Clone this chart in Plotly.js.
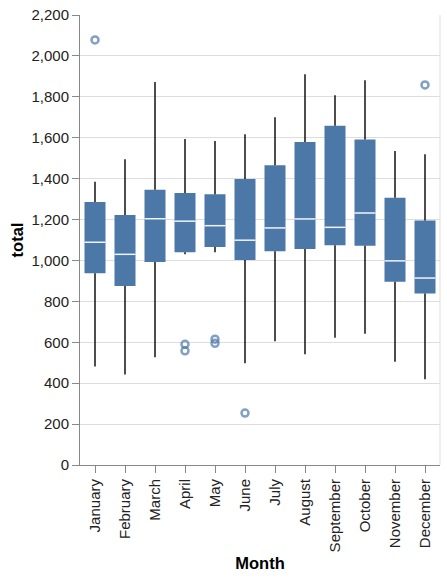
<!DOCTYPE html>
<html>
<head>
<meta charset="utf-8">
<script src="https://cdn.plot.ly/plotly-3.0.1.min.js"></script>
<style>html,body{margin:0;padding:0;background:#fff;}#chart{width:447px;height:579px;}</style>
</head>
<body>
<div id="chart"></div>
<script>
const months = ['January','February','March','April','May','June','July','August','September','October','November','December'];
const q1     = [937, 875, 993, 1040, 1066, 1002, 1045, 1056, 1074, 1072, 896, 838];
const median = [1089, 1030, 1204, 1192, 1170, 1099, 1159, 1203, 1162, 1232, 998, 914];
const q3     = [1286, 1222, 1346, 1330, 1324, 1398, 1465, 1579, 1659, 1591, 1306, 1195];
const lower  = [481, 442, 527, 1030, 1040, 497, 605, 541, 622, 642, 505, 419];
const upper  = [1385, 1495, 1873, 1594, 1584, 1617, 1700, 1910, 1808, 1881, 1535, 1519];
const outlierMonth = ['January','April','April','May','May','June','December'];
const outlierValue = [2078, 590, 558, 615, 595, 254, 1858];
const yTicks = [0, 200, 400, 600, 800, 1000, 1200, 1400, 1600, 1800, 2000, 2200];

const idx = months.map((m, i) => i);
const BLUE = '#4c78a8';
const HALF = 0.35;

const boxes = {
  type: 'bar', x: idx, base: q1, y: q3.map((v, i) => v - q1[i]),
  width: 0.7, marker: {color: BLUE, line: {width: 0}}, hoverinfo: 'skip'
};
const wx = [], wy = [];
idx.forEach(i => {
  wx.push(i, i, null, i, i, null);
  wy.push(lower[i], q1[i], null, q3[i], upper[i], null);
});
const whiskers = {type: 'scatter', mode: 'lines', x: wx, y: wy, line: {color: '#000', width: 1.4}, hoverinfo: 'skip'};
const mx = [], my = [];
idx.forEach(i => { mx.push(i - HALF, i + HALF, null); my.push(median[i], median[i], null); });
const medians = {type: 'scatter', mode: 'lines', x: mx, y: my, line: {color: '#f0f4fa', width: 1.5}, hoverinfo: 'skip'};
const outliers = {
  type: 'scatter', mode: 'markers',
  x: outlierMonth.map(m => months.indexOf(m)), y: outlierValue,
  marker: {symbol: 'circle-open', size: 7, color: 'rgba(76,120,168,0.7)', line: {width: 2.5, color: 'rgba(76,120,168,0.7)'}},
  hoverinfo: 'skip'
};

const font = {family: '"Liberation Sans", Arial, sans-serif', color: '#000'};
const layout = {
  width: 447, height: 579,
  margin: {l: 80, r: 7, t: 15, b: 114},
  showlegend: false,
  paper_bgcolor: '#fff', plot_bgcolor: '#fff',
  font: font,
  xaxis: {
    range: [-0.5, 11.5], tickvals: idx, ticktext: months, tickangle: -90,
    ticks: 'outside', ticklen: 7, tickcolor: '#888', tickwidth: 1,
    showline: true, linecolor: '#888', linewidth: 1, showgrid: false, zeroline: false,
    tickfont: {size: 15, family: font.family, color: '#222'},
    title: {text: 'Month', font: {size: 16.5, family: font.family, color: '#000', weight: 'bold'}, standoff: 6}
  },
  yaxis: {
    range: [0, 2200], tickvals: yTicks, tickformat: ',',
    ticks: 'outside', ticklen: 7, tickcolor: '#888', tickwidth: 1,
    showline: true, linecolor: '#888', linewidth: 1, showgrid: true, gridcolor: '#ddd', gridwidth: 1, zeroline: false,
    tickfont: {size: 15, family: font.family, color: '#222'},
    title: {text: 'total', font: {size: 16.5, family: font.family, color: '#000', weight: 'bold'}, standoff: 3}
  },
  shapes: [{type: 'line', xref: 'paper', yref: 'paper', x0: 1, x1: 1, y0: 0, y1: 1, line: {color: '#ddd', width: 1}, layer: 'below'}]
};
Plotly.newPlot('chart', [boxes, whiskers, medians, outliers], layout, {displayModeBar: false, staticPlot: true});
</script>
</body>
</html>
